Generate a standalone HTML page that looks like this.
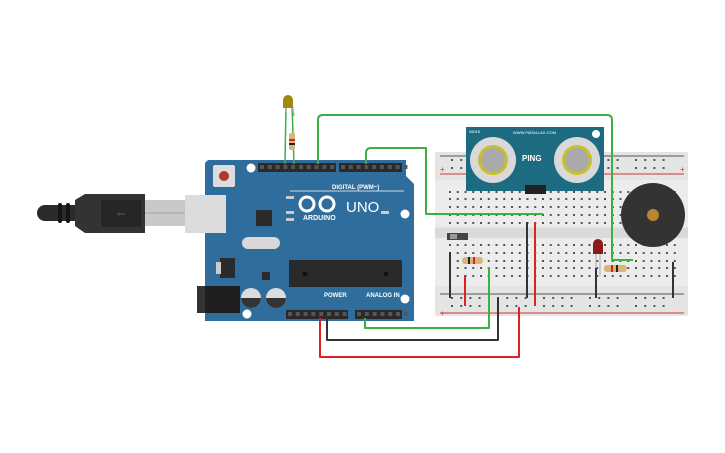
<!DOCTYPE html>
<html><head><meta charset="utf-8">
<style>html,body{margin:0;padding:0;background:#fff;width:725px;height:453px;overflow:hidden}
svg{display:block}
text{font-family:"Liberation Sans",sans-serif}</style></head>
<body>
<svg id="s" width="725" height="453" viewBox="0 0 725 453" xmlns="http://www.w3.org/2000/svg">
<!-- USB cable -->
<rect x="140" y="200" width="45" height="26" fill="#c8c8c8"/>
<rect x="140" y="212" width="45" height="2" fill="#b5b5b5"/>
<circle cx="45" cy="213" r="8" fill="#2a2a2a"/>
<rect x="45" y="205" width="30" height="16" fill="#2a2a2a"/>
<rect x="58" y="203" width="4" height="20" rx="2" fill="#151515"/>
<rect x="66" y="203" width="4" height="20" rx="2" fill="#151515"/>
<polygon points="75,200 85,194 145,194 145,233 85,233 75,226" fill="#333"/>
<rect x="101" y="200" width="40" height="27" fill="#262626"/>
<text x="121" y="217" font-size="11" fill="#555" text-anchor="middle">⭠</text>
<!-- Breadboard -->
<rect x="435" y="152" width="253" height="164" fill="#e4e4e4" rx="2"/>
<rect x="435" y="180" width="253" height="47" fill="#ececec"/>
<rect x="435" y="238" width="253" height="48" fill="#ececec"/>
<rect x="435" y="228" width="253" height="10" fill="#dadada"/>
<line x1="440" y1="156" x2="684" y2="156" stroke="#555" stroke-width="1"/>
<line x1="440" y1="174" x2="684" y2="174" stroke="#c33" stroke-width="1"/>
<line x1="440" y1="294" x2="684" y2="294" stroke="#555" stroke-width="1"/>
<line x1="440" y1="313" x2="684" y2="313" stroke="#c33" stroke-width="1"/>
<text x="440" y="172" font-size="8" fill="#c33">+</text>
<text x="440" y="316" font-size="8" fill="#c33">+</text>
<text x="680" y="172" font-size="8" fill="#c33">+</text>
<g id="holes" fill="#555"></g>
<!-- Arduino -->
<polygon points="205,163 208,160 406,160 406,176 414,184 414,321 205,321" fill="#2f6d9c"/>
<rect x="258" y="163" width="78" height="9" fill="#2a2a2a"/>
<rect x="339" y="163" width="63" height="9" fill="#2a2a2a"/>
<rect x="286" y="310" width="62" height="9" fill="#2a2a2a"/>
<rect x="355" y="310" width="47" height="9" fill="#2a2a2a"/>
<g id="pins" fill="#555"></g>
<rect x="213" y="165" width="22" height="22" rx="2" fill="#ddd"/>
<circle cx="224" cy="176" r="5" fill="#b33a2a"/>
<rect x="185" y="195" width="41" height="38" fill="#dcdcdc"/>
<rect x="256" y="210" width="16" height="16" fill="#2a2a2a"/>
<rect x="242" y="237" width="38" height="12" rx="6" fill="#d8d8d8"/>
<rect x="220" y="258" width="15" height="20" fill="#2a2a2a"/>
<rect x="216" y="262" width="5" height="12" fill="#ccc"/>
<rect x="262" y="272" width="8" height="8" fill="#2a2a2a"/>
<rect x="197" y="286" width="43" height="27" fill="#1e1e1e"/>
<rect x="197" y="286" width="8" height="27" fill="#333"/>
<circle cx="251" cy="298" r="10" fill="#ddd"/><path d="M241,298 a10,10 0 0 0 20,0z" fill="#333"/>
<circle cx="276" cy="298" r="10" fill="#ddd"/><path d="M266,298 a10,10 0 0 0 20,0z" fill="#333"/>
<rect x="289" y="260" width="113" height="27" fill="#2a2a2a"/>
<circle cx="305" cy="274" r="2.5" fill="#111"/><circle cx="386" cy="274" r="2.5" fill="#111"/>
<circle cx="251" cy="168" r="4.5" fill="#fff"/><circle cx="405" cy="214" r="4.5" fill="#fff"/>
<circle cx="405" cy="299" r="4.5" fill="#fff"/><circle cx="247" cy="314" r="4.5" fill="#fff"/>
<line x1="290" y1="191" x2="404" y2="191" stroke="#fff" stroke-width="0.7"/>
<text x="332" y="189" font-size="6" fill="#fff" font-weight="bold">DIGITAL (PWM~)</text>
<text x="324" y="297" font-size="6" fill="#fff" font-weight="bold">POWER</text>
<text x="366" y="297" font-size="6" fill="#fff" font-weight="bold">ANALOG IN</text>
<circle cx="307" cy="204" r="7" fill="none" stroke="#fff" stroke-width="3"/>
<circle cx="327" cy="204" r="7" fill="none" stroke="#fff" stroke-width="3"/>
<text x="303" y="220" font-size="7" fill="#fff" font-weight="bold">ARDUINO</text>
<text x="346" y="212" font-size="15" fill="#fff">UNO</text>
<rect x="286" y="196" width="8" height="3" fill="#ccc"/><rect x="286" y="211" width="8" height="3" fill="#ccc"/><rect x="286" y="218" width="8" height="3" fill="#ccc"/>
<rect x="381" y="211" width="8" height="3" fill="#ccc"/>
<!-- LED + resistor top -->
<line x1="286" y1="104" x2="285" y2="164" stroke="#3cb043" stroke-width="1.5"/>
<line x1="292" y1="104" x2="294" y2="164" stroke="#3cb043" stroke-width="1.5"/>
<line x1="286" y1="104" x2="286" y2="112" stroke="#aaa" stroke-width="1.5"/>
<line x1="292" y1="104" x2="294" y2="116" stroke="#aaa" stroke-width="1.5"/>
<path d="M283,108 v-8 a5,5 0 0 1 10,0 v8z" fill="#9e8a10"/>
<rect x="289" y="133" width="6" height="17" rx="2" fill="#d8b67a"/>
<rect x="289" y="139" width="6" height="2" fill="#d22"/><rect x="289" y="143" width="6" height="2" fill="#222"/>
<!-- Ping sensor -->
<rect x="466" y="127" width="138" height="64" fill="#1d6b80"/>
<circle cx="493" cy="160" r="23" fill="#d9d9d9"/><circle cx="493" cy="160" r="15" fill="#c8c02a"/><circle cx="493" cy="160" r="12" fill="#aaa"/>
<circle cx="577" cy="160" r="23" fill="#d9d9d9"/><circle cx="577" cy="160" r="15" fill="#c8c02a"/><circle cx="577" cy="160" r="12" fill="#aaa"/>
<circle cx="596" cy="134" r="4" fill="#fff"/>
<text x="522" y="161" font-size="8" fill="#fff" font-weight="bold">PING</text>
<text x="513" y="134" font-size="4" fill="#fff">WWW.PARALLAX.COM</text>
<text x="469" y="133" font-size="4" fill="#fff">28015</text>
<rect x="525" y="185" width="21" height="9" fill="#222"/>
<!-- Buzzer -->
<circle cx="653" cy="215" r="32" fill="#333"/>
<circle cx="653" cy="215" r="6" fill="#b8862e"/>
<!-- switch, LED, resistors -->
<rect x="447" y="233" width="21" height="7" fill="#444"/><rect x="450" y="234" width="7" height="5" fill="#999"/>
<path d="M593,254 v-10 a5,5 0 0 1 10,0 v10z" fill="#8b1a1a"/>
<line x1="596" y1="254" x2="596" y2="268" stroke="#aaa"/><line x1="600" y1="254" x2="600" y2="276" stroke="#aaa"/>
<rect x="462" y="257" width="21" height="7" rx="3" fill="#d8b67a"/><rect x="468" y="257" width="2" height="7" fill="#222"/><rect x="473" y="257" width="2" height="7" fill="#d22"/>
<rect x="604" y="265" width="23" height="7" rx="3" fill="#d8b67a"/><rect x="611" y="265" width="2" height="7" fill="#d22"/><rect x="616" y="265" width="2" height="7" fill="#222"/>
<!-- wires -->
<g fill="none" stroke-width="2" stroke-linejoin="round">
<path d="M318,164 V120 q0,-5 5,-5 H607 q5,0 5,5 V260 H633" stroke="#3cb043"/>
<path d="M366,164 V153 q0,-5 5,-5 H426 V214 H543" stroke="#3cb043"/>
<path d="M365,318 V328 H489 V267" stroke="#3cb043"/>
<path d="M327,318 V340 H498 V298" stroke="#333"/>
<path d="M320,318 V357 H519 V307" stroke="#d22"/>
<path d="M450,252 V298" stroke="#333"/>
<path d="M465,275 V306" stroke="#d22"/>
<path d="M527,222 V298" stroke="#333"/>
<path d="M535,222 V306" stroke="#d22"/>
<path d="M596,268 V298" stroke="#333"/>
<path d="M673,262 V298" stroke="#333"/>
</g>
</svg>
<script>
var ns="http://www.w3.org/2000/svg",h=document.getElementById('holes');
function d(x,y){var r=document.createElementNS(ns,'rect');r.setAttribute('x',x-1);r.setAttribute('y',y-1);r.setAttribute('width',2);r.setAttribute('height',2);h.appendChild(r);}
for(var c=0;c<30;c++){var x=450+c*7.75;
[192,199,207,215,223,245,253,261,268,276].forEach(function(y){d(x,y)});}
for(var c=0;c<25;c++){var x=452+c*9.2;if(c%5==4)continue;[160,168,298,306].forEach(function(y){d(x,y)});}
var p=document.getElementById('pins');
function pr(x0,x1,y){for(var x=x0;x<x1;x+=7.8){var r=document.createElementNS(ns,'rect');r.setAttribute('x',x+2);r.setAttribute('y',y);r.setAttribute('width',4);r.setAttribute('height',4);p.appendChild(r);}}
pr(258,336,165);pr(339,402,165);pr(286,348,312);pr(355,402,312);
</script>
</body></html>
